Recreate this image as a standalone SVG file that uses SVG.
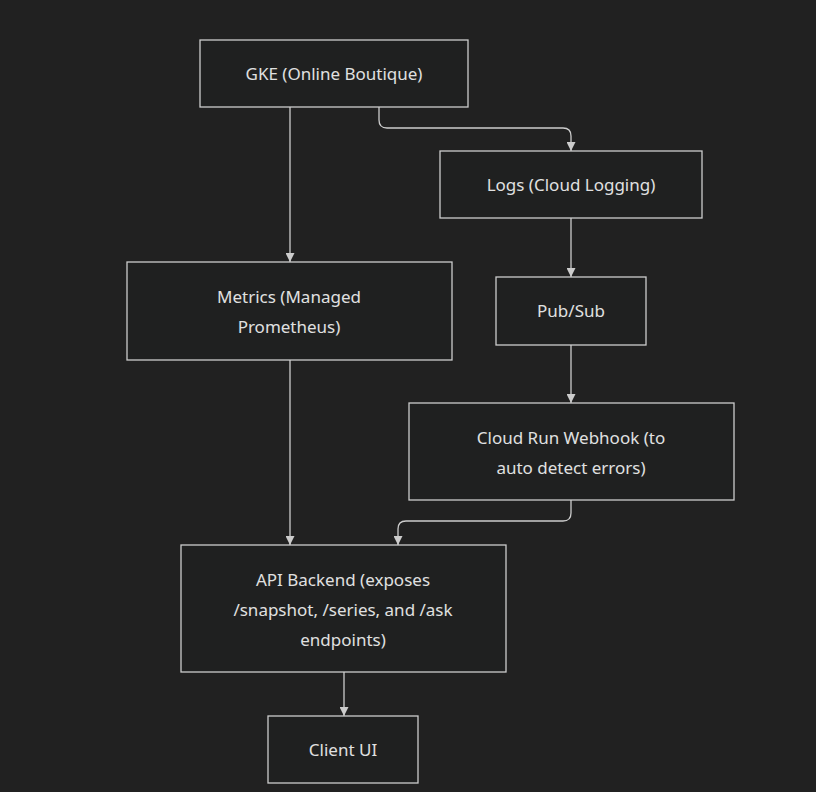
<svg xmlns="http://www.w3.org/2000/svg" width="816" height="792" viewBox="0 0 816 792">
<style>
.n{fill:#1f2020;stroke:#cccccc;stroke-width:1.3}
.t{fill:#e0e0e0;font-family:"Segoe UI","Noto Sans","Liberation Sans",sans-serif;font-size:17px;text-anchor:middle}
.c{fill:none;stroke:#cccccc;stroke-width:1.3;marker-end:url(#a)}
</style>
<defs><marker id="a" viewBox="0 0 10 10" refX="10" refY="5" markerWidth="9" markerHeight="9" markerUnits="userSpaceOnUse" orient="auto"><path d="M0,0L10,5L0,10z" fill="#cccccc"/></marker></defs>
<rect width="816" height="792" fill="#212121"/>
<g id="connectors">
<path class="c" d="M290,107V262"/>
<path class="c" d="M379,107V120Q379,128 387,128H563Q571,128 571,136V151"/>
<path class="c" d="M571,218V277"/>
<path class="c" d="M571,345V403"/>
<path class="c" d="M290,360V545"/>
<path class="c" d="M571,500V513Q571,521 563,521H406Q398,521 398,529V545"/>
<path class="c" d="M344,672V716"/>
</g>
<g id="gke"><rect class="n" x="200" y="40" width="268" height="67"/><text class="t" x="334" y="80">GKE (Online Boutique)</text></g>
<g id="logs"><rect class="n" x="440" y="151" width="262" height="67"/><text class="t" x="571" y="191">Logs (Cloud Logging)</text></g>
<g id="metrics"><rect class="n" x="127" y="262" width="325" height="98"/><text class="t" x="289" y="303">Metrics (Managed</text><text class="t" x="289" y="333">Prometheus)</text></g>
<g id="pubsub"><rect class="n" x="496" y="277" width="150" height="68"/><text class="t" x="571" y="317">Pub/Sub</text></g>
<g id="webhook"><rect class="n" x="409" y="403" width="325" height="97"/><text class="t" x="571" y="444">Cloud Run Webhook (to</text><text class="t" x="571" y="474">auto detect errors)</text></g>
<g id="api"><rect class="n" x="181" y="545" width="325" height="127"/><text class="t" x="343" y="586">API Backend (exposes</text><text class="t" x="343" y="616">/snapshot, /series, and /ask</text><text class="t" x="343" y="646">endpoints)</text></g>
<g id="client"><rect class="n" x="268" y="716" width="150" height="67"/><text class="t" x="343" y="756">Client UI</text></g>
</svg>
